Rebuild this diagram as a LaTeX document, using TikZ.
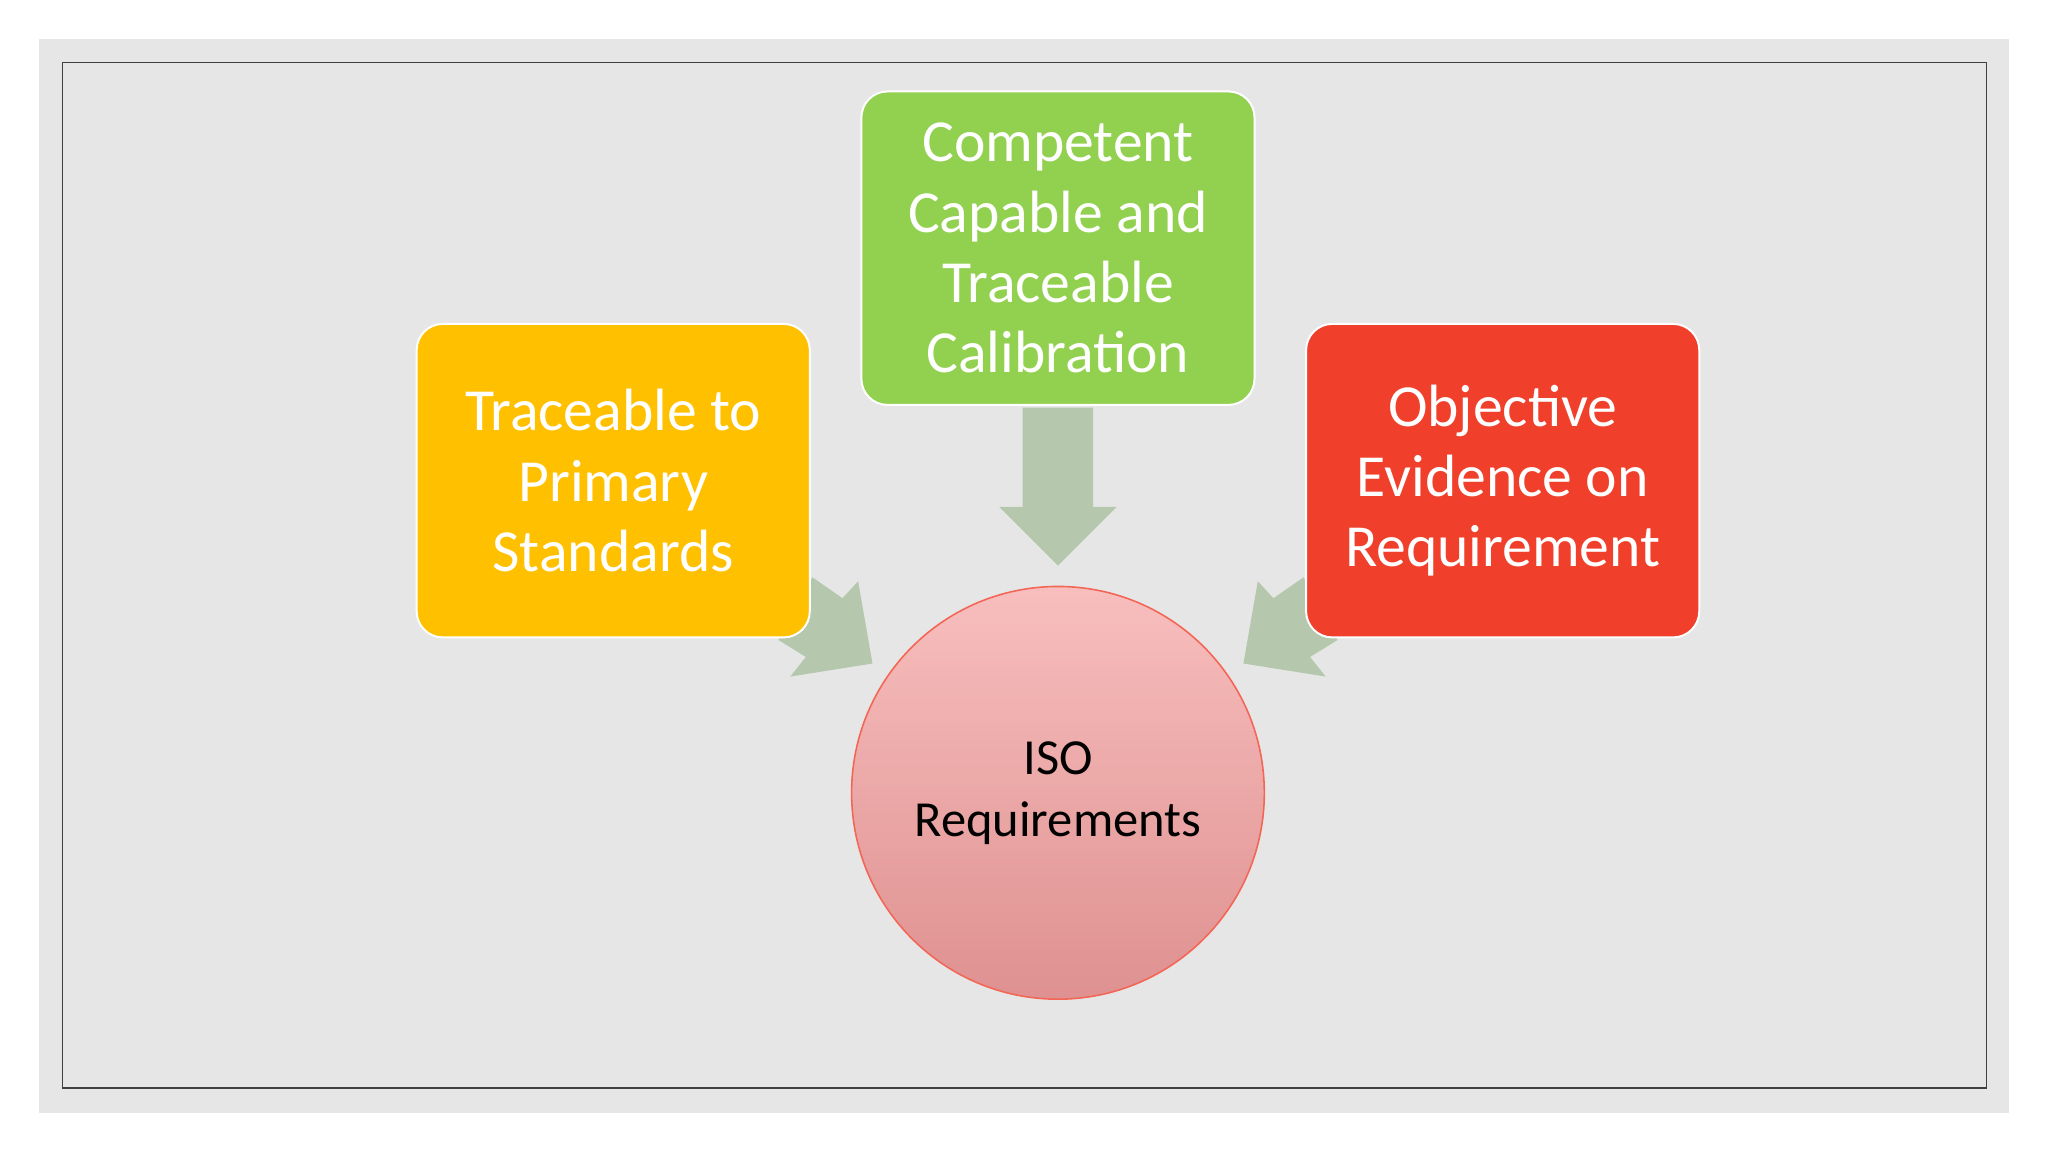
\documentclass[tikz,border=0pt]{standalone}
\usepackage{fontspec}
\setmainfont{Carlito}
\definecolor{bg}{HTML}{E6E6E6}
\definecolor{yel}{HTML}{FFC000}
\definecolor{grn}{HTML}{92D050}
\definecolor{rd}{HTML}{F03F2B}
\definecolor{pk}{HTML}{F6B3B2}
\definecolor{arr}{HTML}{B5C8AD}
\tikzset{box/.style={draw=white,line width=0.15mm,rounded corners=2mm,minimum width=30.1mm,minimum height=24mm,align=center,text=white,font=\fontsize{13}{15.3}\selectfont},
arrowshape/.style={fill=arr,draw=none}}
\begin{document}
\begin{tikzpicture}[x=0.1mm,y=-0.1mm]
\useasboundingbox (0,0) rectangle (1568,882);
\fill[white] (0,0) rectangle (1568,882);
\fill[bg] (30,30) rectangle (1538,852);
\draw[black!75,line width=0.12mm] (48,48) rectangle (1521,833);
% arrows
\fill[arrowshape] (783,312) -- (837,312) -- (837,388) -- (855,388) -- (810,433) -- (765,388) -- (783,388) -- cycle;
\fill[arrowshape] (622,442) -- (645,458) -- (657,445) -- (668,508) -- (605,518) -- (617,503) -- (596,490) -- cycle;
\fill[arrowshape] (998,442) -- (975,458) -- (963,445) -- (952,508) -- (1015,518) -- (1003,503) -- (1024,490) -- cycle;
\node[box,fill=yel] (l) at (469.5,368) {Traceable to\\Primary\\Standards};
\node[box,fill=grn] (m) at (810,190) {Competent\\Capable and\\Traceable\\Calibration};
\node[box,fill=rd] (r) at (1150.5,368) {Objective\\Evidence on\\Requirement};
\node[circle,draw=rd!80,line width=0.12mm,minimum size=31.6mm,top color=pk!85!white,bottom color=pk!90!red!90!black,align=center,font=\fontsize{11}{13.5}\selectfont] (c) at (810,607) {ISO\\Requirements};
\end{tikzpicture}
\end{document}
